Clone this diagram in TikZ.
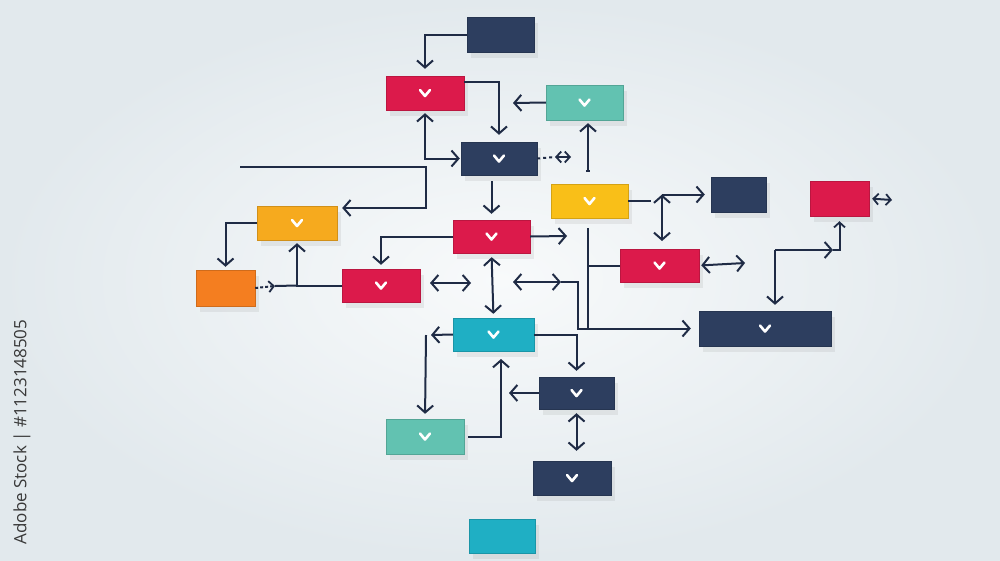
\documentclass[tikz,border=0pt]{standalone}
\usepackage{fontspec}
\setsansfont{Open Sans}
\usepackage{tikz}
\usetikzlibrary{arrows.meta,shadows}

\definecolor{ink}{HTML}{1F2B45}
\definecolor{navy}{HTML}{2D3E5F}
\definecolor{crimson}{HTML}{DC1A4B}
\definecolor{mint}{HTML}{62C2B1}
\definecolor{gold}{HTML}{F9BF18}
\definecolor{amber}{HTML}{F6AA1E}
\definecolor{tangerine}{HTML}{F47E20}
\definecolor{cyanbox}{HTML}{1FAFC4}
\definecolor{bgin}{HTML}{F8FAFB}
\definecolor{bgout}{HTML}{E2E9ED}

\begin{document}
\begin{tikzpicture}[x=1pt,y=-1pt,
    link/.style={draw=ink, line width=2pt, >={Straight Barb[length=7pt,width=16pt,line width=2pt]}},
    small/.style={>={Straight Barb[length=5pt,width=11pt,line width=1.8pt]}},
    box/.style n args={3}{fill=#1, draw=#1!85!black, line width=0.4pt, inner sep=0,
      minimum width=#2, minimum height=#3,
      drop shadow={shadow xshift=4pt, shadow yshift=-6pt, opacity=0.13}},
    chev/.style={path picture={\draw[white, line width=2.6pt, line cap=round, line join=round]
      ([xshift=-5pt,yshift=3pt]path picture bounding box.center) -- ++(5pt,-6pt) -- ++(5pt,6pt);}}]
  \useasboundingbox (0,0) rectangle (1000,560);
  \shade[inner color=bgin, outer color=bgout] (0,0) rectangle (1000,560);
  \node[rotate=90, text=black!78] (stamp) at (22,432) {\sffamily\fontsize{17}{17}\selectfont Adobe Stock | \#1123148505};

  % boxes
  \node[box={navy}{67}{35}] (n0) at (500.5,34.5) {};
  \node[box={crimson}{78}{34}, chev] (r1) at (425,93) {};
  \node[box={mint}{77}{35}, chev] (t1) at (584.5,102.5) {};
  \node[box={navy}{76}{33}, chev] (n1) at (499,158.5) {};
  \node[box={gold}{77}{34}, chev] (y1) at (589.5,201) {};
  \node[box={navy}{55}{35}] (n2) at (738.5,194.5) {};
  \node[box={crimson}{59}{35}] (r5) at (839.5,198.5) {};
  \node[box={amber}{80}{34}, chev] (y0) at (297,223) {};
  \node[box={crimson}{77}{33}, chev] (r2) at (491.5,236.5) {};
  \node[box={crimson}{79}{33}, chev] (r3) at (659.5,265.5) {};
  \node[box={tangerine}{59}{36}] (o) at (225.5,288) {};
  \node[box={crimson}{78}{33}, chev] (r4) at (381,285.5) {};
  \node[box={navy}{132}{35}, chev] (n3) at (765,328.5) {};
  \node[box={cyanbox}{81}{33}, chev] (c1) at (493.5,334.5) {};
  \node[box={navy}{75}{32}, chev] (n4) at (576.5,393) {};
  \node[box={mint}{78}{35}, chev] (t2) at (425,436.5) {};
  \node[box={navy}{78}{34}, chev] (n5) at (572,478) {};
  \node[box={cyanbox}{66}{34}] (c2) at (502,536) {};

  % free ends and bends
  \coordinate (tfree) at (513,103);
  \coordinate (dash1) at (555,157);
  \coordinate (dash2) at (571,157);
  \coordinate (ybase) at (588,172);
  \coordinate (hstart) at (240,167);
  \coordinate (hbend) at (426,167);
  \coordinate (ojoin) at (275,286);
  \coordinate (rfree) at (567,236);
  \coordinate (mleft) at (430,283);
  \coordinate (mright) at (471,283);
  \coordinate (oleft) at (513,282);
  \coordinate (oright) at (561,282);
  \coordinate (obend) at (578,282);
  \coordinate (ytail) at (588,228);
  \coordinate (yend) at (651,201);
  \coordinate (qlow) at (662,241);
  \coordinate (qtop) at (662,194.5);
  \coordinate (r3free) at (745,263);
  \coordinate (sbend) at (775,250);
  \coordinate (sright) at (833,250);
  \coordinate (r5free) at (892,200);
  \coordinate (cfree) at (431,335);
  \coordinate (cdrop) at (426,335);
  \coordinate (trise) at (501,351);
  \coordinate (nfree) at (509,393);

  % top cluster
  \draw[link,->,shorten >=7pt] (n0.west) -| (r1.north);
  \draw[link,->,shorten >=7pt] (r1.east |- 0,82) -| (n1.north);
  \draw[link,->] (t1.west) -- (tfree);
  \draw[link,<->,shorten <=3pt,shorten >=1pt] (r1.south) |- (n1.west);
  \draw[link,dashed] (n1.east) -- (dash1);
  \draw[link,small,<->] (dash1) -- (dash2);
  \draw[link,{Square[length=2.5pt,width=4pt]}->,shorten >=3pt] (ybase) -- (ybase |- t1.south);
  \draw[link,->,shorten <=6pt,shorten >=6pt] (n1.south -| r2.north) -- (r2.north);

  % left side
  \draw[link,->,shorten >=5pt] (hstart) -- (hbend) |- (y0.east |- 0,208);
  \draw[link,->,shorten >=3pt] (y0.west) -| (o.north);
  \draw[link,->,shorten >=3pt] (r4.west) -| (y0.south);
  \draw[link,small,densely dashed,->] (o.east) -- (ojoin);
  \draw[link] (ojoin) -- (y0.south |- r4.west);
  \draw[link,->,shorten >=4pt] (r2.west) -| (r4.north);
  \draw[link,->] (r2.east) -- (rfree);
  \draw[link,<->] (mleft) -- (mright);
  \draw[link,<->,shorten <=4pt,shorten >=4pt] (r2.south) -- (c1.north);

  % middle right
  \draw[link,<->] (oleft) -- (oright);
  \draw[link,->,shorten >=8pt] (oright) -- (obend) |- (n3.west);
  \draw[link] (ytail) -- (ytail |- n3.west);
  \draw[link] (ytail |- r3.west) -- (r3.west);
  \draw[link] (y1.east) -- (yend);
  \draw[link,<->] (qlow) -- (qtop);
  \draw[link,->,shorten >=6pt] (qtop) -- (n2.west);
  \draw[link,<->,shorten <=2pt] (r3.east) -- (r3free);
  \draw[link,->,shorten >=6pt] (sbend) -- (sbend |- n3.north);
  \draw[link,->] (sbend) -- (sright);
  \draw[link,small,->,shorten >=5pt] (sright) -| (r5.south);
  \draw[link,small,<->,shorten <=3pt] (r5.east) -- (r5free);

  % lower cluster
  \draw[link,->] (c1.west) -- (cfree);
  \draw[link,->,shorten >=5pt] (cdrop) -- (t2.north);
  \draw[link,->,shorten <=4pt,shorten >=8pt] (t2.east) -| (trise);
  \draw[link,->,shorten >=6pt] (c1.east) -| (n4.north);
  \draw[link,->] (n4.west) -- (nfree);
  \draw[link,<->,shorten <=4pt,shorten >=10pt] (n4.south) -- (n4.south |- n5.north);
\end{tikzpicture}
\end{document}
